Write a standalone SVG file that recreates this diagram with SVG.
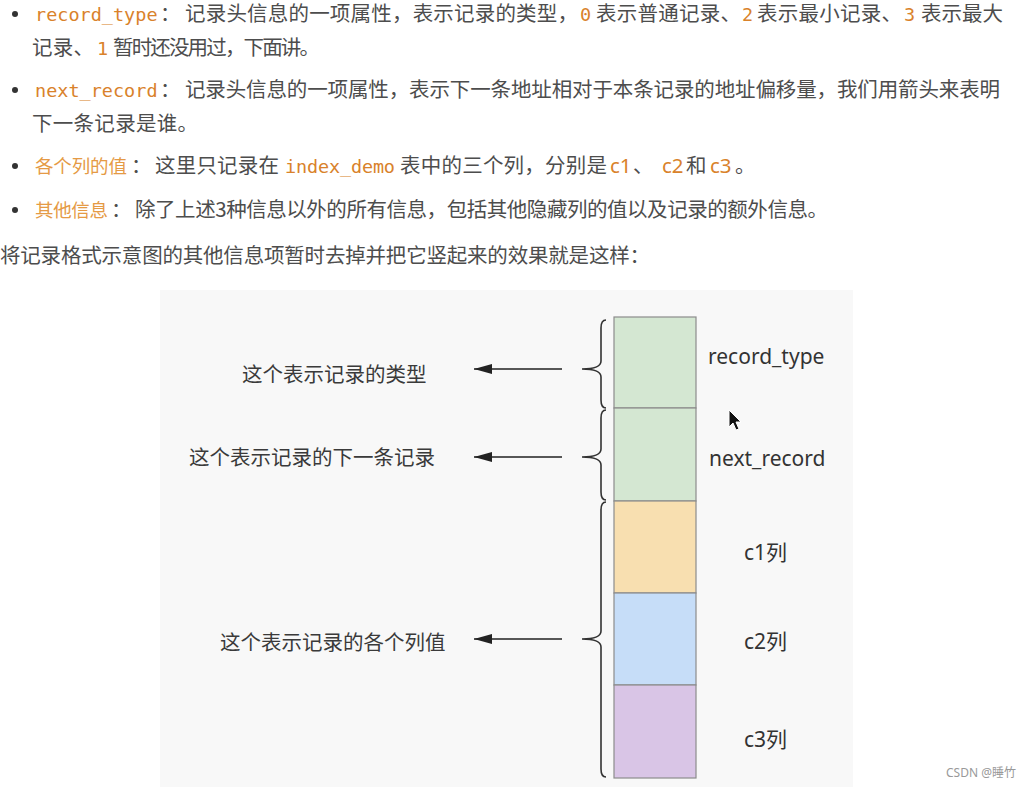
<svg xmlns="http://www.w3.org/2000/svg" width="1029" height="787" viewBox="0 0 1029 787">
<style>
.t{font-family:"Noto Sans CJK SC","Noto Sans",sans-serif;font-size:20.5px;fill:#4d4d4d}
.o{font-family:"Noto Sans CJK SC","Noto Sans",sans-serif;font-size:18.5px;fill:#e59a45}
.m{font-family:"DejaVu Sans Mono","Liberation Mono",monospace;font-size:18.5px;fill:#d9822b}
.s{font-family:"Noto Sans","Noto Sans CJK SC",sans-serif;font-size:20.5px;fill:#d9822b}
.d{font-family:"Noto Sans CJK SC",sans-serif;font-size:20.5px;fill:#3a3a3a}
.r{font-family:"Noto Sans","Noto Sans CJK SC",sans-serif;font-size:21px;fill:#333}
.cell{stroke:#8c8c8c;stroke-width:1.2}
.brace{fill:none;stroke:#333;stroke-width:1.6}
.arr{stroke:#222;stroke-width:1.6;marker-end:url(#ah)}
</style>
<defs>
<marker id="ah" markerWidth="18" markerHeight="10" refX="18" refY="5" orient="auto" markerUnits="userSpaceOnUse">
<path d="M0,0 L18,5 L0,10 Z" fill="#222"/>
</marker>
</defs>
<rect width="1029" height="787" fill="#ffffff"/>
<g id="text-top">
<circle cx="15" cy="14" r="3" fill="#333"/>
<text class="m" x="35" y="21">record_type</text>
<text class="t" x="160" y="21">：</text>
<text class="t" x="185" y="21" textLength="393">记录头信息的一项属性，表示记录的类型，</text>
<text class="m" x="580" y="21">0</text>
<text class="t" x="596" y="21" textLength="145">表示普通记录、</text>
<text class="m" x="742" y="21">2</text>
<text class="t" x="757" y="21" textLength="145">表示最小记录、</text>
<text class="m" x="904" y="21">3</text>
<text class="t" x="921" y="21" textLength="82">表示最大</text>
<text class="t" x="32" y="55" textLength="62">记录、</text>
<text class="m" x="97" y="55">1</text>
<text class="t" x="113" y="55" textLength="207">暂时还没用过，下面讲。</text>

<circle cx="15" cy="90" r="3" fill="#333"/>
<text class="m" x="35" y="97">next_record</text>
<text class="t" x="160" y="97">：</text>
<text class="t" x="185" y="97" textLength="815">记录头信息的一项属性，表示下一条地址相对于本条记录的地址偏移量，我们用箭头来表明</text>
<text class="t" x="32" y="131" textLength="166">下一条记录是谁。</text>

<circle cx="15" cy="166" r="3" fill="#333"/>
<text class="o" x="35" y="173" textLength="92">各个列的值</text>
<text class="t" x="131" y="173">：</text>
<text class="t" x="155" y="173" textLength="124">这里只记录在</text>
<text class="m" x="285" y="173" textLength="110">index_demo</text>
<text class="t" x="400" y="173" textLength="207">表中的三个列，分别是</text>
<text class="s" x="610" y="173">c1</text>
<text class="t" x="633" y="173">、</text>
<text class="s" x="662" y="173">c2</text>
<text class="t" x="686" y="173">和</text>
<text class="s" x="710" y="173">c3</text>
<text class="t" x="735" y="173">。</text>

<circle cx="15" cy="210" r="3" fill="#333"/>
<text class="o" x="35" y="217" textLength="73">其他信息</text>
<text class="t" x="111" y="217">：</text>
<text class="t" x="135" y="217" textLength="693">除了上述3种信息以外的所有信息，包括其他隐藏列的值以及记录的额外信息。</text>

<text class="t" x="0" y="263" textLength="650">将记录格式示意图的其他信息项暂时去掉并把它竖起来的效果就是这样：</text>
</g>

<rect x="160" y="290" width="693" height="497" fill="#f8f8f8"/>

<g id="stack">
<rect class="cell" x="614" y="317" width="82" height="91" fill="#d4e7d2"/>
<rect class="cell" x="614" y="408" width="82" height="93" fill="#d4e7d2"/>
<rect class="cell" x="614" y="501" width="82" height="92" fill="#f8dfb0"/>
<rect class="cell" x="614" y="593" width="82" height="92" fill="#c6ddf8"/>
<rect class="cell" x="614" y="685" width="82" height="93" fill="#d9c5e6"/>
</g>
<g id="labels-right">
<text class="r" x="708" y="364">record_type</text>
<text class="r" x="709" y="466">next_record</text>
<text class="r" x="744" y="560">c1列</text>
<text class="r" x="744" y="649">c2列</text>
<text class="r" x="744" y="747">c3列</text>
</g>
<g id="labels-left">
<text class="d" x="242" y="382">这个表示记录的类型</text>
<text class="d" x="189" y="465">这个表示记录的下一条记录</text>
<text class="d" x="220" y="650">这个表示记录的各个列值</text>
</g>
<g id="connectors">
<path class="brace" d="M606,320 Q601,320 601,328 L601,361 Q601,369 582,369 Q601,369 601,377 L601,400 Q601,408 606,408"/>
<path class="brace" d="M606,410 Q601,410 601,418 L601,449 Q601,457 582,457 Q601,457 601,465 L601,492 Q601,500 606,500"/>
<path class="brace" d="M606,502 Q601,502 601,510 L601,631 Q601,639 582,639 Q601,639 601,647 L601,769 Q601,777 606,777"/>
<line class="arr" x1="562" y1="369" x2="474" y2="369"/>
<line class="arr" x1="562" y1="457" x2="474" y2="457"/>
<line class="arr" x1="562" y1="639" x2="474" y2="639"/>
</g>
<path id="cursor" d="M729,410 L729,427 L733,423 L736,430 L739,429 L736,422 L741,422 Z" fill="#111" stroke="#fff" stroke-width="1"/>
<text x="946" y="777" style="font-family:'Noto Sans','Noto Sans CJK SC',sans-serif;font-size:12px;fill:#999">CSDN @睡竹</text>
</svg>
